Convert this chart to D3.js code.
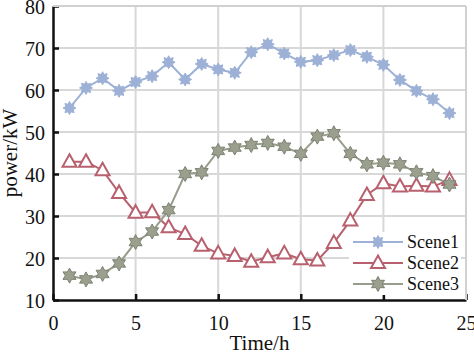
<!DOCTYPE html>
<html>
<head>
<meta charset="utf-8">
<script src="https://cdn.jsdelivr.net/npm/d3@7"></script>
<style>
  body { margin: 0; background: #fff; }
  text { font-family: "Liberation Serif", "Times New Roman", serif; }
</style>
</head>
<body>
<div id="chart-area"></div>
<script>
// data
const hours = d3.range(1, 25);
const scene1 = [55.7, 60.5, 62.8, 59.8, 61.9, 63.3, 66.6, 62.5, 66.2, 64.9, 64.1, 69.0,
  70.9, 68.7, 66.7, 67.1, 68.3, 69.5, 67.9, 66.0, 62.4, 59.8, 57.8, 54.5];
const scene2 = [42.9, 42.9, 40.9, 35.5, 30.8, 30.9, 27.3, 25.7, 22.9, 21.1, 20.5, 19.1,
  20.2, 21.1, 19.7, 19.4, 23.6, 28.9, 35.0, 37.8, 37.0, 37.2, 37.0, 38.6];
const scene3 = [15.8, 14.9, 16.2, 18.7, 23.8, 26.3, 31.4, 40.0, 40.4, 45.5, 46.3, 46.9,
  47.4, 46.5, 44.8, 48.9, 49.7, 44.8, 42.3, 42.7, 42.3, 40.4, 39.5, 37.5];
const seriesNames = ['Scene1', 'Scene2', 'Scene3'];
const xTicks = [0, 5, 10, 15, 20, 25];
const yTicks = [10, 20, 30, 40, 50, 60, 70, 80];

const margin = {left: 53, right: 8, top: 6, bottom: 53};
const width = 474 - margin.left - margin.right;
const height = 353 - margin.top - margin.bottom;

const colors = ['#9db1d7', '#b8606e', '#979d8b'];

const svg = d3.select('#chart-area')
  .append('svg')
  .attr('width', 474)
  .attr('height', 353);

const g = svg.append('g')
  .attr('transform', `translate(${margin.left}, ${margin.top})`);

const x = d3.scaleLinear().domain([0, 25]).range([0, width]);
const y = d3.scaleLinear().domain([10, 80]).range([height, 0]);

// grid
g.selectAll('.vgrid').data(xTicks.slice(1)).enter().append('line')
  .attr('x1', d => x(d)).attr('x2', d => x(d))
  .attr('y1', 0).attr('y2', height)
  .attr('stroke', '#d8d8d8').attr('stroke-width', 2);
g.selectAll('.hgrid').data(yTicks.slice(1)).enter().append('line')
  .attr('x1', 0).attr('x2', width)
  .attr('y1', d => y(d)).attr('y2', d => y(d))
  .attr('stroke', '#d8d8d8').attr('stroke-width', 2);

// axes
const xAxis = g.append('g')
  .attr('transform', `translate(0, ${height})`)
  .call(d3.axisBottom(x).tickValues(xTicks).tickSizeInner(-6).tickSizeOuter(0).tickPadding(12));
const yAxis = g.append('g')
  .call(d3.axisLeft(y).tickValues(yTicks).tickSizeInner(-6).tickSizeOuter(0).tickPadding(8));

[xAxis, yAxis].forEach(ax => {
  ax.select('.domain').attr('stroke', '#111').attr('stroke-width', 2.5);
  ax.selectAll('.tick line').attr('stroke', '#111').attr('stroke-width', 2.5);
  ax.selectAll('.tick text')
    .attr('font-size', '20px')
    .attr('font-family', '"Liberation Serif", serif')
    .attr('fill', '#111');
});
xAxis.selectAll('.tick text').attr('dy', '0.9em');
yAxis.selectAll('.tick text').attr('dy', '0.36em');

// labels
g.append('text')
  .attr('x', width / 2)
  .attr('y', height + 50)
  .attr('text-anchor', 'middle')
  .attr('font-size', '21px')
  .attr('fill', '#111')
  .text('Time/h');

g.append('text')
  .attr('transform', 'rotate(-90)')
  .attr('x', -height / 2)
  .attr('y', -36)
  .attr('text-anchor', 'middle')
  .attr('font-size', '21px')
  .attr('fill', '#111')
  .text('power/kW');

// marker shapes
function starPath(points, outer, inner) {
  const pts = [];
  for (let i = 0; i < points * 2; i++) {
    const r = i % 2 === 0 ? outer : inner;
    const a = Math.PI * i / points - Math.PI / 2;
    pts.push([r * Math.cos(a), r * Math.sin(a)]);
  }
  return 'M' + pts.map(p => p.join(',')).join('L') + 'Z';
}
const markerPaths = [
  starPath(8, 6.5, 4),
  'M0,-7.5L7,5L-7,5Z',
  starPath(6, 7.5, 4.2)
];
const markerStyle = [
  {fill: colors[0], stroke: colors[0], sw: 1},
  {fill: '#fff', stroke: colors[1], sw: 2},
  {fill: '#9ba08e', stroke: '#7c8171', sw: 1}
];

const allSeries = [scene1, scene2, scene3];
const line = d3.line().x((d, i) => x(hours[i])).y(d => y(d));

allSeries.forEach((s, k) => {
  g.append('path')
    .datum(s)
    .attr('d', line)
    .attr('fill', 'none')
    .attr('stroke', colors[k])
    .attr('stroke-width', 2);
  g.selectAll('.m' + k).data(s).enter().append('path')
    .attr('transform', (d, i) => `translate(${x(hours[i])}, ${y(d)})`)
    .attr('d', markerPaths[k])
    .attr('fill', markerStyle[k].fill)
    .attr('stroke', markerStyle[k].stroke)
    .attr('stroke-width', markerStyle[k].sw);
});

// box top/right
g.append('line').attr('x1', 0).attr('x2', width).attr('y1', 0).attr('y2', 0)
  .attr('stroke', '#d0d0d0').attr('stroke-width', 2);
g.append('line').attr('x1', width).attr('x2', width).attr('y1', 0).attr('y2', height)
  .attr('stroke', '#d0d0d0').attr('stroke-width', 2);

// legend
const legend = g.append('g').attr('transform', `translate(${353 - margin.left}, ${242 - margin.top})`);
seriesNames.forEach((name, k) => {
  const row = legend.append('g').attr('transform', `translate(0, ${k * 21})`);
  row.append('rect').attr('x', -4).attr('y', -10).attr('width', 112).attr('height', 21).attr('fill', '#fff');
  row.append('line').attr('x1', 0).attr('x2', 50).attr('y1', 0).attr('y2', 0)
    .attr('stroke', colors[k]).attr('stroke-width', 2);
  row.append('path')
    .attr('transform', 'translate(25, 0)')
    .attr('d', markerPaths[k])
    .attr('fill', markerStyle[k].fill)
    .attr('stroke', markerStyle[k].stroke)
    .attr('stroke-width', markerStyle[k].sw);
  row.append('text')
    .attr('x', 54)
    .attr('y', 0)
    .attr('dy', '0.35em')
    .attr('font-size', '18px')
    .attr('fill', '#111')
    .text(name);
});
</script>
</body>
</html>
